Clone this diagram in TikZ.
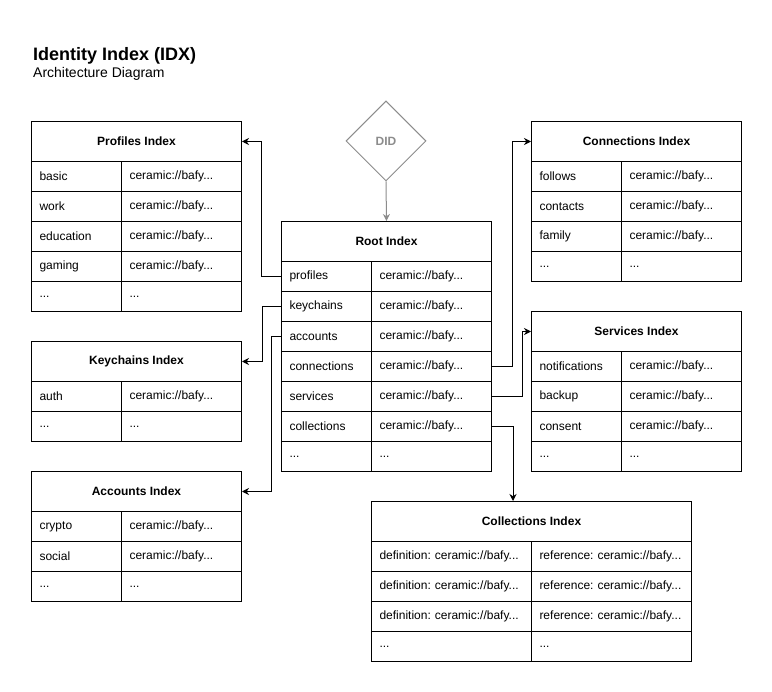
\documentclass[tikz,border=0pt]{standalone}
\usepackage{fontspec}
\setmainfont{Liberation Sans}
\usetikzlibrary{shapes.geometric,arrows.meta}
\definecolor{didgray}{RGB}{140,140,140}
\newcommand{\cerurl}{ceramic://bafy...}
\newcommand{\ddd}{...}
% #1 name prefix, #2 x, #3 y, #4 w1, #5 w2, #6 left text, #7 right text
\newcommand{\idxrow}[7]{%
  \pgfmathsetmacro\twa{#4-16}\pgfmathsetmacro\twb{#5-16}%
  \node[cellbox, text width=\twa pt, anchor=north west] (#1a) at (#2,#3) {#6};
  \node[cellbox, text width=\twb pt, anchor=north west] (#1b) at (#2+#4,#3) {#7};}
% #1 name, #2 x, #3 y, #4 width, #5 title
\newcommand{\idxhead}[5]{%
  \node[headbox, minimum width=#4pt, anchor=north west] (#1) at (#2,#3) {#5};}
\frenchspacing
\begin{document}
\begin{tikzpicture}[x=1pt,y=-1pt,
  cellbox/.style={draw, line width=1pt, minimum height=30pt, inner xsep=8pt, inner ysep=0pt, align=left, font=\fontsize{12}{14}\selectfont\frenchspacing},
  headbox/.style={draw, line width=1pt, minimum height=40pt, inner sep=0pt, font=\bfseries\fontsize{12}{14}\selectfont},
  conn/.style={draw, line width=1pt, -{Stealth[length=7pt,width=7pt]}},
  didarrow/.style={draw=didgray, line width=1pt, -{Stealth[length=7pt,width=7pt]}}]
\useasboundingbox (0,0) rectangle (772,692);
\fill[white] (0,0) rectangle (772,692);

\node[anchor=base west, inner sep=0pt, font=\bfseries\fontsize{18}{20}\selectfont] (title) at (33,61) {Identity Index (IDX)};
\node[anchor=base west, inner sep=0pt, font=\fontsize{14}{16}\selectfont] (subtitle) at (33,78) {Architecture Diagram};

% Profiles Index
\idxhead{profiles}{31}{121}{210}{Profiles Index}
\idxrow{profiles-1}{31}{161}{90}{120}{basic}{\cerurl}
\idxrow{profiles-2}{31}{191}{90}{120}{work}{\cerurl}
\idxrow{profiles-3}{31}{221}{90}{120}{education}{\cerurl}
\idxrow{profiles-4}{31}{251}{90}{120}{gaming}{\cerurl}
\idxrow{profiles-5}{31}{281}{90}{120}{\ddd}{\ddd}

% Keychains Index
\idxhead{keychains}{31}{341}{210}{Keychains Index}
\idxrow{keychains-1}{31}{381}{90}{120}{auth}{\cerurl}
\idxrow{keychains-2}{31}{411}{90}{120}{\ddd}{\ddd}

% Accounts Index
\idxhead{accounts}{31}{471}{210}{Accounts Index}
\idxrow{accounts-1}{31}{511}{90}{120}{crypto}{\cerurl}
\idxrow{accounts-2}{31}{541}{90}{120}{social}{\cerurl}
\idxrow{accounts-3}{31}{571}{90}{120}{\ddd}{\ddd}

% Root Index
\idxhead{root}{281}{221}{210}{Root Index}
\idxrow{root-1}{281}{261}{90}{120}{profiles}{\cerurl}
\idxrow{root-2}{281}{291}{90}{120}{keychains}{\cerurl}
\idxrow{root-3}{281}{321}{90}{120}{accounts}{\cerurl}
\idxrow{root-4}{281}{351}{90}{120}{connections}{\cerurl}
\idxrow{root-5}{281}{381}{90}{120}{services}{\cerurl}
\idxrow{root-6}{281}{411}{90}{120}{collections}{\cerurl}
\idxrow{root-7}{281}{441}{90}{120}{\ddd}{\ddd}

% Connections Index
\idxhead{connections}{531}{121}{210}{Connections Index}
\idxrow{connections-1}{531}{161}{90}{120}{follows}{\cerurl}
\idxrow{connections-2}{531}{191}{90}{120}{contacts}{\cerurl}
\idxrow{connections-3}{531}{221}{90}{120}{family}{\cerurl}
\idxrow{connections-4}{531}{251}{90}{120}{\ddd}{\ddd}

% Services Index
\idxhead{services}{531}{311}{210}{Services Index}
\idxrow{services-1}{531}{351}{90}{120}{notifications}{\cerurl}
\idxrow{services-2}{531}{381}{90}{120}{backup}{\cerurl}
\idxrow{services-3}{531}{411}{90}{120}{consent}{\cerurl}
\idxrow{services-4}{531}{441}{90}{120}{\ddd}{\ddd}

% Collections Index
\idxhead{collections}{371}{501}{320}{Collections Index}
\idxrow{collections-1}{371}{541}{160}{160}{definition: \cerurl}{reference: \cerurl}
\idxrow{collections-2}{371}{571}{160}{160}{definition: \cerurl}{reference: \cerurl}
\idxrow{collections-3}{371}{601}{160}{160}{definition: \cerurl}{reference: \cerurl}
\idxrow{collections-4}{371}{631}{160}{160}{\ddd}{\ddd}

% DID
\node[diamond, draw=didgray, line width=1pt, minimum width=80pt, minimum height=80pt, inner sep=0pt, text=didgray, font=\bfseries\fontsize{12}{14}\selectfont] (did) at (386,141) {DID};
\draw[didarrow] (did.south) -- (root.north);

% connectors
\draw[conn] (root-1a.west) -- ++(-20,0) |- (profiles.east);
\draw[conn] (root-2a.west) -- ++(-19,0) |- (keychains.east);
\draw[conn] (root-3a.west) -- ++(-10,0) |- (accounts.east);
\draw[conn] (root-4b.east) -- ++(20,0) |- (connections.west);
\draw[conn] (root-5b.east) -- ++(30,0) |- (services.west);
\draw[conn] (root-6b.east) -- ++(21,0) coordinate (colturn) -- (colturn |- collections.north);
\end{tikzpicture}
\end{document}
